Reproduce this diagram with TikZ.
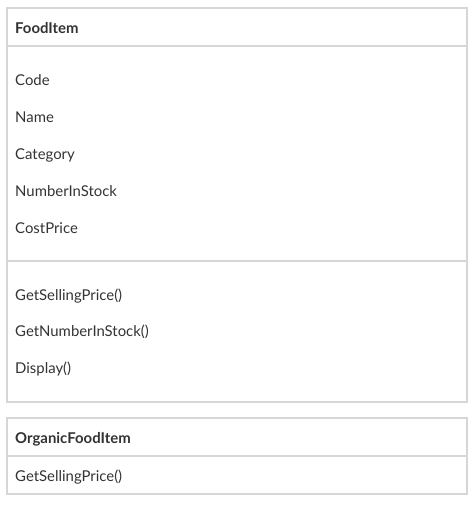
\documentclass[tikz,border=0pt]{standalone}
\usepackage{fontspec}
\setmainfont{Lato}
\definecolor{boxline}{HTML}{D6D6D6}
\definecolor{txt}{HTML}{333333}
\tikzset{
  member/.style={anchor=base west,inner sep=0pt,text=txt,font=\fontsize{14.9}{17}\selectfont},
  classname/.style={member,font=\bfseries\fontsize{14.9}{17}\selectfont},
  umlline/.style={boxline,line width=1.3pt}
}
\begin{document}
\begin{tikzpicture}[x=1pt,y=-1pt]
    \useasboundingbox (0,0) rectangle (474,506);
    % FoodItem class
    \draw[umlline] (7,8) rectangle (467,402);
    \draw[umlline] (7,46) -- (467,46);
    \draw[umlline] (7,261) -- (467,261);
    \node[classname] (fooditem) at (15,33) {FoodItem};
    \foreach \t [count=\i] in {Code,Name,Category,NumberInStock,CostPrice}
    \node[member] (attr\i) at (15,{85+37*(\i-1)}) {\t};
    \foreach \t [count=\i] in {GetSellingPrice(),GetNumberInStock(),Display()}
    \node[member] (op\i) at (15,{300+36.5*(\i-1)}) {\t};
    % OrganicFoodItem class
    \draw[umlline] (7,418) rectangle (467,494);
    \draw[umlline] (7,456) -- (467,456);
    \node[classname] (organic) at (15,443) {OrganicFoodItem};
    \node[member] (orgop1) at (15,481) {GetSellingPrice()};
\end{tikzpicture}
\end{document}
